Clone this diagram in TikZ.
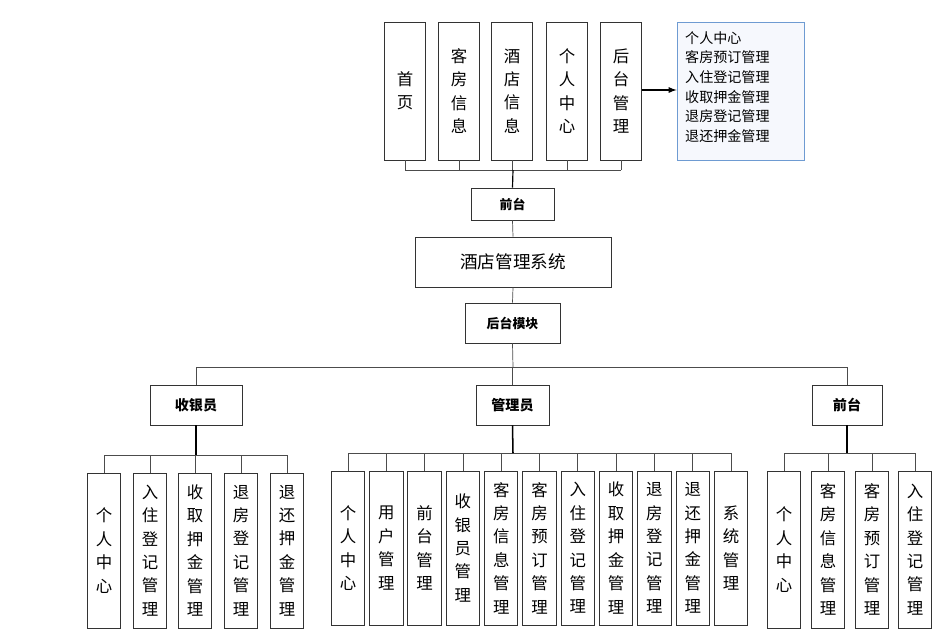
\documentclass[tikz,border=0pt]{standalone}
\usepackage{fontspec}
\setmainfont{Noto Sans CJK SC}
\definecolor{bluebd}{RGB}{110,155,210}
\definecolor{bluefl}{RGB}{246,248,253}
\begin{document}
\begin{tikzpicture}[x=0.03cm,y=-0.03cm,
  vbox/.style={draw=black!80,line width=0.8pt,minimum width=1.0cm,align=center,font=\fontsize{14}{20}\selectfont,inner sep=0pt},
  hbox/.style={draw=black!80,line width=0.8pt,align=center,inner sep=0pt},
  ln/.style={draw=black!70,line width=0.6pt},
  tk/.style={draw=black,line width=1.3pt}]
\useasboundingbox (0,0) rectangle (941,634);
% top
\foreach \n/\x/\t in {t1/405/首\\页, t2/459/客\\房\\信\\息, t3/512/酒\\店\\信\\息, t4/567/个\\人\\中\\心, t5/621/后\\台\\管\\理}
  \node[vbox,minimum width=1.23cm,minimum height=4.14cm] (\n) at (\x,91) {\t};
\node[hbox,draw=bluebd,fill=bluefl,minimum width=3.81cm,minimum height=4.14cm] (blue) at (740.5,91) {};
\node[anchor=north west,align=left,font=\fontsize{12}{16.8}\selectfont,inner sep=0pt] (bt) at (685,31)
 {个人中心\\客房预订管理\\入住登记管理\\收取押金管理\\退房登记管理\\退还押金管理};
\draw[tk,-latex] (t5.east |- 0,90) -- (blue.west |- 0,90);
\node[hbox,minimum width=2.49cm,minimum height=0.96cm,font=\fontsize{11}{13}\selectfont\bfseries] (qt) at (512.5,204) {前台};
\coordinate (j1) at (513,170);
\foreach \n in {t1,t2,t3,t4,t5} \draw[ln] (\n.south) -- (\n.south |- j1);
\draw[ln] (t1.south |- j1) -- (t5.south |- j1);
\draw[tk,line width=1pt] (j1) -- (qt.north);
\node[hbox,minimum width=5.88cm,minimum height=1.5cm,font=\fontsize{15}{18}\selectfont] (sys) at (513,262) {酒店管理系统};
\node[hbox,minimum width=2.85cm,minimum height=1.2cm,font=\fontsize{11}{13}\selectfont\bfseries] (ht) at (512.5,323) {后台模块};
\draw[ln] (qt.south) -- (sys.north);
\draw[ln] (sys.south) -- (ht.north);
\coordinate (j2) at (513,367);
\draw[ln] (ht.south) -- (j2);
\node[hbox,minimum width=2.76cm,minimum height=1.2cm,font=\fontsize{12}{14}\selectfont\bfseries] (r1) at (196,405) {收银员};
\node[hbox,minimum width=2.19cm,minimum height=1.2cm,font=\fontsize{12}{14}\selectfont\bfseries] (r2) at (512.5,405) {管理员};
\node[hbox,minimum width=2.1cm,minimum height=1.2cm,font=\fontsize{12}{14}\selectfont\bfseries] (r3) at (847,405) {前台};
\draw[ln] (r1.north |- j2) -- (r3.north |- j2);
\foreach \n in {r1,r2,r3} \draw[ln] (\n.north |- j2) -- (\n.north);
% cashier
\foreach \n/\x/\t in {c1/104/个\\人\\中\\心, c2/150/入\\住\\登\\记\\管\\理, c3/195/收\\取\\押\\金\\管\\理, c4/241/退\\房\\登\\记\\管\\理, c5/287/退\\还\\押\\金\\管\\理}
  \node[vbox,minimum height=4.65cm] (\n) at (\x,550.5) {\t};
\coordinate (j3) at (196,455);
\draw[ln] (c1.north |- j3) -- (c5.north |- j3);
\foreach \n in {c1,c2,c3,c4,c5} \draw[ln] (\n.north |- j3) -- (\n.north);
\draw[tk] (r1.south) -- (j3);
% admin
\foreach \n/\i/\t in {a1/0/个\\人\\中\\心, a2/1/用\\户\\管\\理, a3/2/前\\台\\管\\理, a4/3/收\\银\\员\\管\\理, a5/4/客\\房\\信\\息\\管\\理, a6/5/客\\房\\预\\订\\管\\理, a7/6/入\\住\\登\\记\\管\\理, a8/7/收\\取\\押\\金\\管\\理, a9/8/退\\房\\登\\记\\管\\理, a10/9/退\\还\\押\\金\\管\\理, a11/10/系\\统\\管\\理}
  \node[vbox,minimum height=4.62cm] (\n) at (348+38.3*\i,548) {\t};
\coordinate (j4) at (513,453);
\draw[ln] (a1.north |- j4) -- (a11.north |- j4);
\foreach \n in {a1,a2,a3,a4,a5,a6,a7,a8,a9,a10,a11} \draw[ln] (\n.north |- j4) -- (\n.north);
\draw[tk] (r2.south) -- (j4);
% front desk
\foreach \n/\x/\t in {f1/784/个\\人\\中\\心, f2/828/客\\房\\信\\息\\管\\理, f3/872/客\\房\\预\\订\\管\\理, f4/915/入\\住\\登\\记\\管\\理}
  \node[vbox,minimum height=4.71cm] (\n) at (\x,549.5) {\t};
\coordinate (j5) at (847,453);
\draw[ln] (f1.north |- j5) -- (f4.north |- j5);
\foreach \n in {f1,f2,f3,f4} \draw[ln] (\n.north |- j5) -- (\n.north);
\draw[tk] (r3.south) -- (j5);
\end{tikzpicture}
\end{document}
